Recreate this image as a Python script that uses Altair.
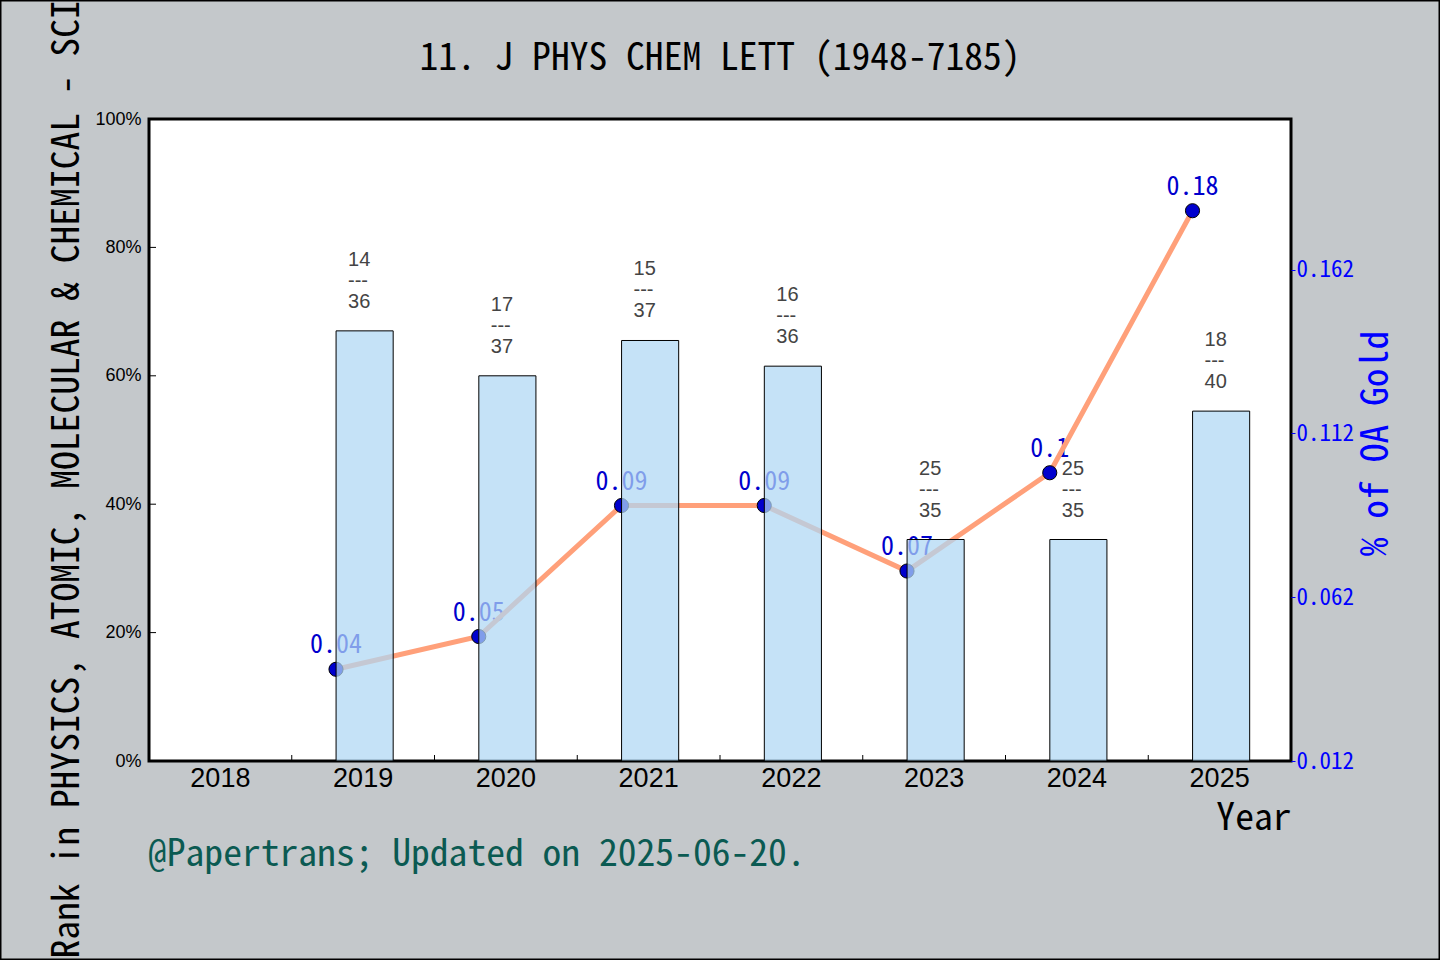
import altair as alt
import pandas as pd

# ---- data ----
all_years = ["2018", "2019", "2020", "2021", "2022", "2023", "2024", "2025"]
years = ["2019", "2020", "2021", "2022", "2023", "2024", "2025"]
rank_pct = [0.67, 0.60, 0.655, 0.615, 0.345, 0.345, 0.545]
rank_num = ["14", "17", "15", "16", "25", "25", "18"]
rank_total = ["36", "37", "37", "36", "35", "35", "40"]
oa_gold = [0.04, 0.05, 0.09, 0.09, 0.07, 0.10, 0.18]
oa_labels = ["0.04", "0.05", "0.09", "0.09", "0.07", "0.1", "0.18"]
left_ticks = [0, 0.2, 0.4, 0.6, 0.8, 1.0]
inner_ticks = [0.2, 0.4, 0.6, 0.8]
right_ticks = [0.012, 0.062, 0.112, 0.162]
boundary_years = ["2019", "2020", "2021", "2022", "2023", "2024", "2025"]

title_text = "11. J PHYS CHEM LETT (1948-7185)"
ytitle = "Rank in PHYSICS, ATOMIC, MOLECULAR & CHEMICAL - SCIE"
y2title = "% of OA Gold"
footer_text = "@Papertrans; Updated on 2025-06-20."

df = pd.DataFrame({
    "year": years, "rank": rank_pct, "num": rank_num, "total": rank_total,
    "dash": ["---"] * len(years), "oa": oa_gold, "oa_label": oa_labels,
})
ticks_df = pd.DataFrame({"v": inner_ticks})
bnd_df = pd.DataFrame({"year": boundary_years})

MONO = "Noto Sans Mono CJK SC, DejaVu Sans Mono"
SANS = "Liberation Sans, Arial"
BIG = 37.6
W, H = 1142, 642
PL, PT, PR, PB = 149, 119, 149, 199

xscale = alt.Scale(type="band", domain=all_years, paddingInner=0, paddingOuter=0)
x_axis = alt.Axis(
    title="Year", labelFont=SANS, labelFontSize=27, labelColor="black",
    labelPadding=4, labelAngle=0, ticks=False, domain=False, grid=False,
    titleFont=MONO, titleFontSize=BIG, titleFontWeight="normal", titleColor="black",
    titleX=W, titleY=68, titleAlign="right", titleBaseline="alphabetic", titleAngle=0,
)
yl_scale = alt.Scale(domain=[0, 1], nice=False, zero=True)
yl_axis = alt.Axis(
    title=ytitle, values=left_ticks, format=".0%", labelFont=SANS, labelFontSize=18,
    labelColor="black", labelPadding=8, ticks=False, domain=False, grid=False,
    labelOverlap=False,
    titleFont=MONO, titleFontSize=BIG, titleFontWeight="normal", titleColor="black",
    titleAngle=270, titleAlign="left", titleBaseline="alphabetic", titleX=-71, titleY=839,
)
yr_scale = alt.Scale(domain=[0.012, 0.208], nice=False, zero=False)
yr_axis = alt.Axis(
    title=y2title, orient="right", values=right_ticks, format=".3f",
    labelFont=MONO, labelFontSize=23, labelColor="blue", labelPadding=1,
    ticks=True, tickSize=4, tickColor="blue", tickWidth=1, domain=False, grid=False,
    labelOverlap=False,
    titleFont=MONO, titleFontSize=BIG, titleFontWeight="normal", titleColor="blue",
    titleAngle=270, titleAlign="center", titleBaseline="alphabetic", titleX=96, titleY=324,
)

base = alt.Chart(df)
POS = 0.31

oa_text = base.mark_text(font=MONO, fontSize=26, color="#0000cd", align="center",
                         baseline="alphabetic", dy=-16).encode(
    x=alt.X("year:O", scale=xscale, axis=x_axis, bandPosition=POS),
    y=alt.Y("oa:Q", scale=yr_scale, axis=yr_axis),
    text="oa_label:N",
)
oa_line = base.mark_line(color="#ffa07a", strokeWidth=5).encode(
    x=alt.X("year:O", scale=xscale, axis=x_axis, bandPosition=POS),
    y=alt.Y("oa:Q", scale=yr_scale, axis=yr_axis),
)
oa_pts = base.mark_circle(size=200, color="#0000cd", opacity=1, stroke="black",
                          strokeWidth=1).encode(
    x=alt.X("year:O", scale=xscale, axis=x_axis, bandPosition=POS),
    y=alt.Y("oa:Q", scale=yr_scale, axis=yr_axis),
)
right = alt.layer(oa_text, oa_line, oa_pts)

bars = base.mark_bar(width=alt.RelativeBandSize(0.4), fill="#afd7f4", fillOpacity=0.73,
                     stroke="black", strokeWidth=1, xOffset=1.5).encode(
    x=alt.X("year:O", scale=xscale, axis=x_axis),
    y=alt.Y("rank:Q", scale=yl_scale, axis=yl_axis),
)

def bar_label(field, dy):
    return base.mark_text(font=SANS, fontSize=20, color="#444444", align="left",
                          baseline="alphabetic", dx=12, dy=dy).encode(
        x=alt.X("year:O", scale=xscale, axis=x_axis, bandPosition=POS),
        y=alt.Y("rank:Q", scale=yl_scale, axis=yl_axis),
        text=f"{field}:N",
    )

lab_num = bar_label("num", -65)
lab_dash = bar_label("dash", -44)
lab_tot = bar_label("total", -23)

ytick_rules = alt.Chart(ticks_df).mark_rule(color="black", strokeWidth=1).encode(
    y=alt.Y("v:Q", scale=yl_scale, axis=yl_axis),
    x=alt.value(0), x2=alt.value(7),
)
xtick_rules = alt.Chart(bnd_df).mark_rule(color="black", strokeWidth=1).encode(
    x=alt.X("year:O", scale=xscale, axis=x_axis, bandPosition=0),
    y=alt.value(H - 6), y2=alt.value(H),
)
footer = alt.Chart(pd.DataFrame({"t": [footer_text]})).mark_text(
    font=MONO, fontSize=BIG, color="#0b5a52", align="left", baseline="alphabetic"
).encode(text="t:N", x=alt.value(-1), y=alt.value(747))

# thin black frame around the whole figure
frame = alt.Chart(pd.DataFrame({"k": [0]})).mark_rect(
    fill=None, stroke="black", strokeWidth=1.5
).encode(x=alt.value(-PL + 0.75), x2=alt.value(W + PR - 0.75),
         y=alt.value(-PT + 0.75), y2=alt.value(H + PB - 0.75))

left = alt.layer(bars, lab_num, lab_dash, lab_tot, ytick_rules, xtick_rules, footer, frame)

chart = alt.layer(right, left).resolve_scale(y="independent").properties(
    width=W, height=H,
    title=alt.TitleParams(title_text, font=MONO, fontSize=BIG, fontWeight="normal",
                          color="black", anchor="middle", frame="group", offset=0,
                          baseline="alphabetic", dy=127),
    autosize=alt.AutoSizeParams(type="none"),
    padding={"left": PL, "top": PT, "right": PR, "bottom": PB},
    background="#c4c8cb",
).configure_view(stroke="black", strokeWidth=3, fill="white")

chart.save("out.html", embed_options={"renderer": "svg", "actions": False})
